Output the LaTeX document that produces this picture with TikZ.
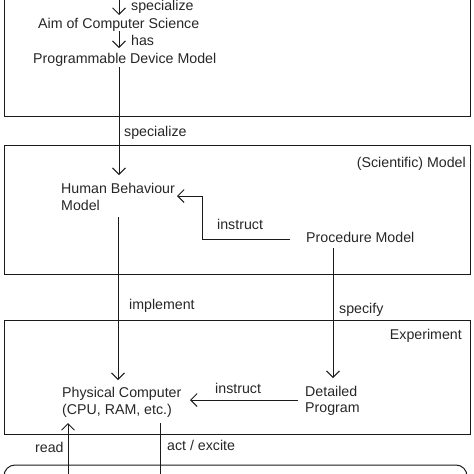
\documentclass[tikz,border=0pt]{standalone}
\usepackage{fontspec}
\setmainfont{Liberation Sans}
\usetikzlibrary{arrows.meta}
\definecolor{txt}{HTML}{262626}
\definecolor{ln}{HTML}{1A1A1A}
\begin{document}
\begin{tikzpicture}[x=1pt,y=-1pt,
  lbl/.style={anchor=base west,inner sep=0pt,text=txt,font=\fontsize{14.2}{17}\selectfont},
  lblr/.style={anchor=base east,inner sep=0pt,text=txt,font=\fontsize{14.2}{17}\selectfont},
  frame/.style={draw=ln,line width=1pt},
  conn/.style={draw=ln,line width=1pt},
  arr/.style={conn,-{Straight Barb[length=6.5pt,width=13pt,line width=0.9pt]}}]
\useasboundingbox (0,0) rectangle (474,474);
\clip (0,0) rectangle (474,474);
% frames
\draw[frame] (4,-5) rectangle (470,116);
\draw[frame] (4,145) rectangle (470,274);
\draw[frame] (4,320) rectangle (470,434);
\draw[frame,rounded corners=11pt] (4,490) -- (4,465) -- (467,465) -- (467,490);
% texts
\node[lbl] (spec1) at (131,10) {specialize};
\node[lbl] (aim) at (38,28) {Aim of Computer Science};
\node[lbl] (has) at (131,45) {has};
\node[lbl] (pdm) at (33,63) {Programmable Device Model};
\node[lbl] (spec2) at (124,136) {specialize};
\node[lblr] (scimodel) at (466,167) {(Scientific) Model};
\node[lbl] (hbm1) at (61,193) {Human Behaviour};
\node[lbl] (hbm2) at (61,210) {Model};
\node[lbl] (instr1) at (217,229) {instruct};
\node[lbl] (pm) at (306,242) {Procedure Model};
\node[lbl] (impl) at (129,309) {implement};
\node[lbl] (specify) at (339,313) {specify};
\node[lblr] (exp) at (462,339) {Experiment};
\node[lbl] (pc1) at (62,397) {Physical Computer};
\node[lbl] (pc2) at (62,414) {(CPU, RAM, etc.)};
\node[lbl] (instr2) at (215,393) {instruct};
\node[lbl] (dp1) at (305,396) {Detailed};
\node[lbl] (dp2) at (305,412) {Program};
\node[lbl] (read) at (35,452) {read};
\node[lbl] (act) at (167,450) {act / excite};
% connector end points
\coordinate (c0) at (119,-2);
\coordinate (aimT) at (119,15);
\coordinate (aimB) at (119,31);
\coordinate (pdmT) at (119,48);
\coordinate (pdmB) at (119,67);
\coordinate (hbmT) at (119,175);
\coordinate (pmW) at (290,239);
\coordinate (k1) at (202,239);
\coordinate (k2) at (202,196);
\coordinate (hbmE) at (177,196);
\coordinate (pmS) at (333,248);
\coordinate (dpN) at (333,378);
\coordinate (hbmS) at (118,217);
\coordinate (pcN) at (118,380);
\coordinate (dpW) at (298,400);
\coordinate (pcE) at (190,400);
\coordinate (rd0) at (68,480);
\coordinate (pcS) at (68,423);
\coordinate (pcS2) at (160,423);
\coordinate (ac0) at (160,480);
% connectors
\draw[arr] (c0) -- (aimT);
\draw[arr] (aimB) -- (pdmT);
\draw[arr] (pdmB) -- (hbmT);
\draw[arr] (pmW) -- (k1) -- (k2) -- (hbmE);
\draw[arr] (pmS) -- (dpN);
\draw[arr] (hbmS) -- (pcN);
\draw[arr] (dpW) -- (pcE);
\draw[arr] (rd0) -- (pcS);
\draw[conn] (pcS2) -- (ac0);
\end{tikzpicture}
\end{document}
